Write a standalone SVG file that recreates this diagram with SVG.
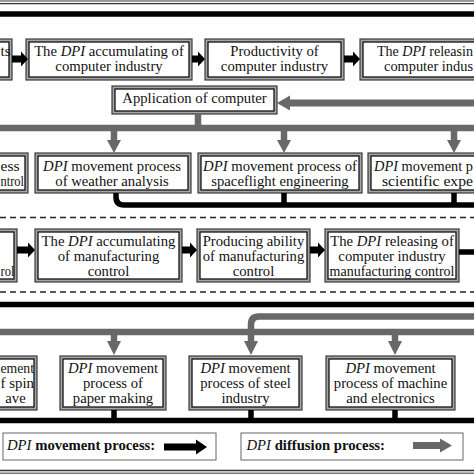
<svg xmlns="http://www.w3.org/2000/svg" width="474" height="474" viewBox="0 0 474 474">
<style>
.o{fill:#a6a6a6;stroke:#3a3a3a;stroke-width:1.2}
.i{fill:#fff;stroke:#111;stroke-width:1.3}
.t{font-family:"Liberation Serif","Times New Roman",serif;font-size:14.7px;fill:#111;text-anchor:middle}
.s{text-anchor:start}
.e{text-anchor:end}
.it{font-style:italic}
.b{font-weight:bold}
.blk{fill:#000}
.gry{fill:#686868}
.bl{stroke:#000;stroke-width:5.5;fill:none}
.gl{stroke:#686868;stroke-width:6.5;fill:none}
.dl{stroke:#222;stroke-width:1.6;stroke-dasharray:6 4;fill:none}
.lg{fill:#fff;stroke:#666;stroke-width:1}
</style>
<rect width="474" height="474" fill="#fff"/>
<g id="frame">
<line x1="0" y1="1" x2="474" y2="1" stroke="#777" stroke-width="1.5"/>
<line x1="0" y1="3.6" x2="474" y2="3.6" stroke="#333" stroke-width="1.2"/>
<line x1="0" y1="470.5" x2="474" y2="470.5" stroke="#333" stroke-width="1.6"/>
<line x1="0" y1="473.2" x2="474" y2="473.2" stroke="#777" stroke-width="1.4"/>
<line x1="0" y1="14" x2="474" y2="14" class="bl"/>
<line x1="0" y1="304.5" x2="474" y2="304.5" class="bl"/>
<line x1="0" y1="217.5" x2="474" y2="217.5" class="dl"/>
<line x1="0" y1="292" x2="474" y2="292" class="dl"/>
</g>

<g id="n1"><rect class="o" x="-10" y="39" width="22" height="41"/><rect class="i" x="-7" y="42" width="16" height="35"/>
<text class="t s" x="0.5" y="56" textLength="10" lengthAdjust="spacingAndGlyphs">ts</text></g>
<g id="n2"><rect class="o" x="26" y="39" width="166" height="41"/><rect class="i" x="29" y="42" width="160" height="35"/>
<text class="t" x="109" y="56">The <tspan class="it">DPI</tspan> accumulating of</text><text class="t" x="109" y="71">computer industry</text></g>
<g id="n3"><rect class="o" x="205" y="39" width="139" height="41"/><rect class="i" x="208" y="42" width="133" height="35"/>
<text class="t" x="274.5" y="56">Productivity of</text><text class="t" x="274.5" y="71">computer industry</text></g>
<g id="n4"><rect class="o" x="360" y="39" width="124" height="41"/><rect class="i" x="363" y="42" width="118" height="35"/>
<text class="t s" x="377" y="56" textLength="96" lengthAdjust="spacingAndGlyphs">The <tspan class="it">DPI</tspan> releasin</text><text class="t s" x="384" y="71" textLength="89" lengthAdjust="spacingAndGlyphs">computer indus</text></g>
<g id="app"><rect class="o" x="112" y="86" width="165" height="28"/><rect class="i" x="115" y="89" width="159" height="22"/>
<text class="t" x="194.5" y="103">Application of computer</text></g>

<g id="m1"><rect class="o" x="-10" y="153" width="38" height="40"/><rect class="i" x="-7" y="156" width="32" height="34"/>
<text class="t s" x="0.5" y="171" textLength="19" lengthAdjust="spacingAndGlyphs">ess</text><text class="t s" x="0.5" y="186" textLength="23.5" lengthAdjust="spacingAndGlyphs">ntrol</text></g>
<g id="m2"><rect class="o" x="35" y="153" width="156" height="40"/><rect class="i" x="38" y="156" width="150" height="34"/>
<text class="t" x="112" y="171"><tspan class="it">DPI</tspan> movement process</text><text class="t" x="112" y="186">of weather analysis</text></g>
<g id="m3"><rect class="o" x="198" y="153" width="164" height="40"/><rect class="i" x="201" y="156" width="158" height="34"/>
<text class="t" x="280" y="171"><tspan class="it">DPI</tspan> movement process of</text><text class="t" x="280" y="186">spaceflight engineering</text></g>
<g id="m4"><rect class="o" x="368" y="153" width="116" height="40"/><rect class="i" x="371" y="156" width="110" height="34"/>
<text class="t s" x="374" y="171" textLength="99" lengthAdjust="spacingAndGlyphs"><tspan class="it">DPI</tspan> movement p</text><text class="t s" x="382" y="186" textLength="91" lengthAdjust="spacingAndGlyphs">scientific expe</text></g>

<g id="p1"><rect class="o" x="-10" y="229" width="27" height="53"/><rect class="i" x="-7" y="232" width="21" height="47"/>
<text class="t s" x="0.5" y="275.5" textLength="14" lengthAdjust="spacingAndGlyphs">rol</text></g>
<g id="p2"><rect class="o" x="35" y="229" width="147" height="53"/><rect class="i" x="38" y="232" width="141" height="47"/>
<text class="t" x="108.5" y="245.5">The <tspan class="it">DPI</tspan> accumulating</text><text class="t" x="108.5" y="261">of manufacturing</text><text class="t" x="108.5" y="276">control</text></g>
<g id="p3"><rect class="o" x="197" y="229" width="113" height="53"/><rect class="i" x="200" y="232" width="107" height="47"/>
<text class="t" x="253.5" y="245.5">Producing ability</text><text class="t" x="253.5" y="261">of manufacturing</text><text class="t" x="253.5" y="276">control</text></g>
<g id="p4"><rect class="o" x="325" y="229" width="134" height="53"/><rect class="i" x="328" y="232" width="128" height="47"/>
<text class="t" x="392" y="245.5">The <tspan class="it">DPI</tspan> releasing of</text><text class="t" x="392" y="261">computer industry</text><text class="t" x="392" y="276" textLength="125" lengthAdjust="spacingAndGlyphs">manufacturing control</text></g>

<g id="q1"><rect class="o" x="-10" y="356" width="47" height="54"/><rect class="i" x="-7" y="359" width="41" height="48"/>
<text class="t s" x="0.5" y="373" textLength="33.5" lengthAdjust="spacingAndGlyphs">ement</text><text class="t s" x="0.5" y="388" textLength="33.5" lengthAdjust="spacingAndGlyphs">f spin</text><text class="t" x="15.5" y="402.5">ave</text></g>
<g id="q2"><rect class="o" x="60" y="356" width="106" height="54"/><rect class="i" x="63" y="359" width="100" height="48"/>
<text class="t" x="113" y="373"><tspan class="it">DPI</tspan> movement</text><text class="t" x="113" y="388">process of</text><text class="t" x="113" y="402.5">paper making</text></g>
<g id="q3"><rect class="o" x="189" y="356" width="113" height="54"/><rect class="i" x="192" y="359" width="107" height="48"/>
<text class="t" x="245.5" y="373"><tspan class="it">DPI</tspan> movement</text><text class="t" x="245.5" y="388">process of steel</text><text class="t" x="245.5" y="402.5">industry</text></g>
<g id="q4"><rect class="o" x="326" y="356" width="129" height="54"/><rect class="i" x="329" y="359" width="123" height="48"/>
<text class="t" x="390.5" y="373"><tspan class="it">DPI</tspan> movement</text><text class="t" x="390.5" y="388">process of machine</text><text class="t" x="390.5" y="402.5">and electronics</text></g>

<g id="connectors">
<polygon class="blk" points="12,55.5 21,55.5 21,51.5 28,59 21,66.5 21,62.5 12,62.5"/>
<polygon class="blk" points="192,55.5 198,55.5 198,51.5 205,59 198,66.5 198,62.5 192,62.5"/>
<polygon class="blk" points="344,55.5 353,55.5 353,51.5 360,59 353,66.5 353,62.5 344,62.5"/>
<rect class="gry" x="289" y="99.5" width="185" height="7"/>
<polygon class="gry" points="277,103 290,95.5 290,110.5"/>
<line class="gl" x1="198" y1="114" x2="198" y2="128"/>
<line class="gl" x1="0" y1="128" x2="474" y2="128"/>
<line class="gl" x1="114" y1="128" x2="114" y2="141"/>
<line class="gl" x1="284" y1="128" x2="284" y2="141"/>
<line class="gl" x1="454" y1="128" x2="454" y2="141"/>
<polygon class="gry" points="107,140 121,140 114,153"/>
<polygon class="gry" points="277,140 291,140 284,153"/>
<polygon class="gry" points="447,140 461,140 454,153"/>
<path class="bl" d="M116,193 V197 Q116,205 124,205 H474"/>
<line class="bl" x1="284" y1="193" x2="284" y2="205"/>
<line class="bl" x1="454" y1="193" x2="454" y2="205"/>
<polygon class="blk" points="17,246.5 28,246.5 28,242.5 35,250 28,257.5 28,253.5 17,253.5"/>
<polygon class="blk" points="182,246.5 190,246.5 190,242.5 197,250 190,257.5 190,253.5 182,253.5"/>
<polygon class="blk" points="310,246.5 318,246.5 318,242.5 325,250 318,257.5 318,253.5 310,253.5"/>
<line class="bl" x1="459" y1="252" x2="474" y2="252"/>
<path class="gl" d="M474,316.5 H259 Q251,316.5 251,324.5 V342"/>
<line class="gl" x1="0" y1="332" x2="474" y2="332"/>
<line class="gl" x1="114" y1="332" x2="114" y2="342"/>
<line class="gl" x1="395" y1="332" x2="395" y2="342"/>
<polygon class="gry" points="107,341 121,341 114,355"/>
<polygon class="gry" points="244,341 258,341 251,355"/>
<polygon class="gry" points="388,341 402,341 395,355"/>
<line class="bl" x1="0" y1="420.5" x2="474" y2="420.5"/>
<line class="bl" x1="114" y1="410" x2="114" y2="420.5"/>
<line class="bl" x1="251" y1="410" x2="251" y2="420.5"/>
<line class="bl" x1="395" y1="410" x2="395" y2="420.5"/>
</g>

<g id="legend-movement"><rect class="lg" x="3" y="433" width="213" height="27"/>
<text class="t s" x="7" y="450"><tspan class="it">DPI</tspan> <tspan class="b">movement process:</tspan></text>
<polygon class="blk" points="164,443.5 196,443.5 196,439.5 207,447 196,454.5 196,450.5 164,450.5"/></g>
<g id="legend-diffusion"><rect class="lg" x="241" y="433" width="222" height="27"/>
<text class="t s" x="246.5" y="450"><tspan class="it">DPI</tspan> <tspan class="b">diffusion process:</tspan></text>
<polygon class="gry" points="413,442 440,442 440,438.5 452,445.5 440,452.5 440,449 413,449"/></g>
</svg>
